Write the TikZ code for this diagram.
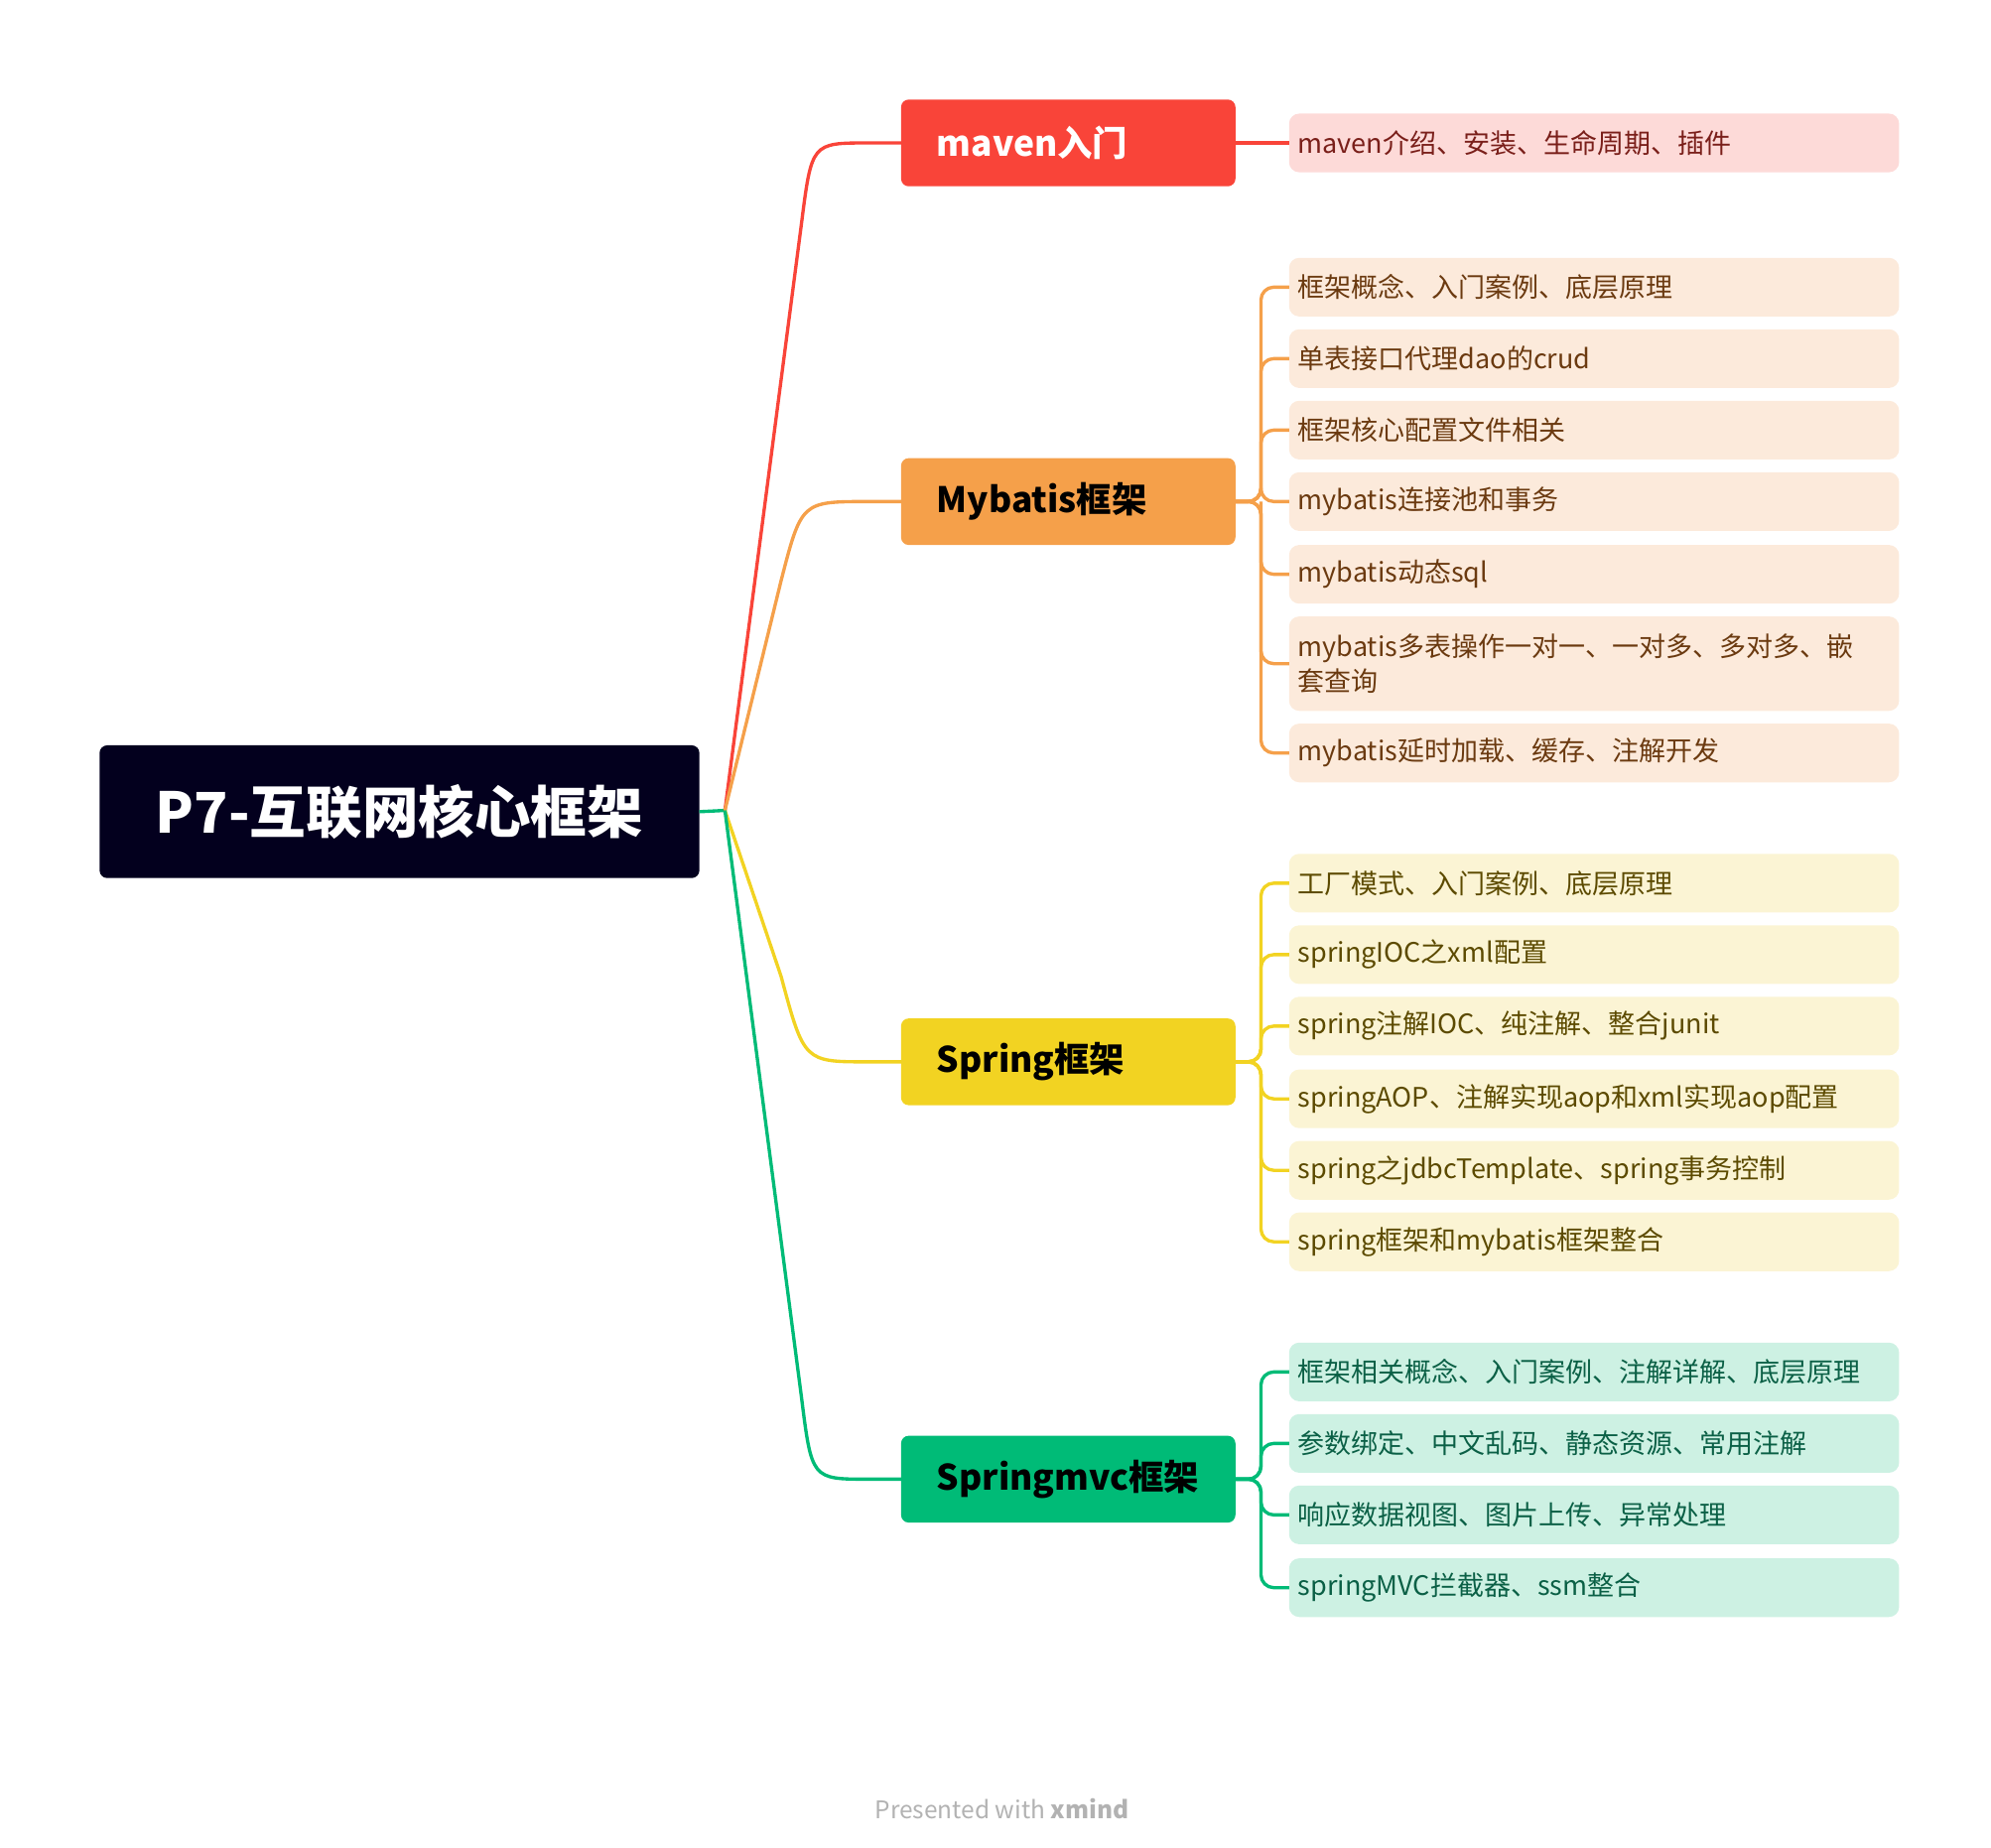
\documentclass[tikz,border=0pt]{standalone}
\usepackage{fontspec}
\setmainfont{Noto Sans CJK SC}
\begin{document}
\begin{tikzpicture}[x=1pt,y=-1pt,outer sep=0pt,
  rootbox/.style={fill=rootc,rounded corners=6pt,minimum width=470pt,minimum height=104pt,text=white,font=\fontsize{44}{50}\selectfont\bfseries},
  brbox/.style={rounded corners=6pt,minimum width=262pt,minimum height=68pt,font=\fontsize{27.5}{32}\selectfont\bfseries,text width=206pt,align=left},
  leaf/.style={rounded corners=8pt,minimum width=478pt,minimum height=46pt,text width=464pt,align=left,font=\fontsize{21}{27}\selectfont,inner sep=3pt},
  conn/.style={line width=2.6pt,rounded corners=10pt},
  root2/.style={line width=2.6pt}]
\definecolor{rootc}{HTML}{03001E}
\definecolor{cr}{HTML}{F94439}\definecolor{lr}{HTML}{FDDAD8}\definecolor{tr}{HTML}{7A1F1A}
\definecolor{co}{HTML}{F5A04A}\definecolor{lo}{HTML}{FCEADB}\definecolor{to}{HTML}{6B3A10}
\definecolor{cy}{HTML}{F2D322}\definecolor{ly}{HTML}{FBF4D4}\definecolor{ty}{HTML}{5C4A00}
\definecolor{cg}{HTML}{00BB77}\definecolor{lg}{HTML}{CDF1E3}\definecolor{tg}{HTML}{0B6046}
\useasboundingbox (0,0) rectangle (1560,1448);
\node[rootbox] (root) at (313,636) {P7-互联网核心框架};
\coordinate (rj) at (568,635);
\draw[root2,cg] (root.east) -- (rj);
% branches
\node[brbox,fill=cr,text=white] (b1) at (837,112) {maven入门};
\node[brbox,fill=co] (b2) at (837,393) {Mybatis框架};
\node[brbox,fill=cy] (b3) at (837,832) {Spring框架};
\node[brbox,fill=cg] (b4) at (837,1159) {Springmvc框架};
\draw[root2,cr] (rj) -- (628,175) .. controls (636,112) .. (680,112) -- (b1.west);
\draw[root2,co] (rj) -- (612,455) .. controls (628,393) .. (680,393) -- (b2.west);
\draw[root2,cy] (rj) -- (612,765) .. controls (630,832) .. (680,832) -- (b3.west);
\draw[root2,cg] (rj) -- (628,1095) .. controls (636,1159) .. (680,1159) -- (b4.west);
% leaves
\newcommand{\lf}[6]{\node[leaf,fill=#3,text=#4,anchor=west] (#1) at (1010,#2) {#6};
  \draw[conn,#5] (#1.west) -- (988,#2) -- (988,\csname by\endcsname) -- (968,\csname by\endcsname);}
\node[leaf,fill=lr,text=tr,anchor=west] (a1) at (1010,112) {maven介绍、安装、生命周期、插件};
\draw[root2,cr] (b1.east) -- (a1.west);
\def\by{393}
\lf{m1}{225}{lo}{to}{co}{框架概念、入门案例、底层原理}
\lf{m2}{281}{lo}{to}{co}{单表接口代理dao的crud}
\lf{m3}{337}{lo}{to}{co}{框架核心配置文件相关}
\lf{m4}{393}{lo}{to}{co}{mybatis连接池和事务}
\lf{m5}{450}{lo}{to}{co}{mybatis动态sql}
\node[leaf,fill=lo,text=to,anchor=west,minimum height=74pt] (m6) at (1010,520) {mybatis多表操作一对一、一对多、多对多、嵌\\套查询};
\draw[conn,co] (m6.west) -- (988,520) -- (988,393);
\lf{m7}{590}{lo}{to}{co}{mybatis延时加载、缓存、注解开发}
\def\by{832}
\lf{s1}{692}{ly}{ty}{cy}{工厂模式、入门案例、底层原理}
\lf{s2}{748}{ly}{ty}{cy}{springIOC之xml配置}
\lf{s3}{804}{ly}{ty}{cy}{spring注解IOC、纯注解、整合junit}
\lf{s4}{861}{ly}{ty}{cy}{springAOP、注解实现aop和xml实现aop配置}
\lf{s5}{917}{ly}{ty}{cy}{spring之jdbcTemplate、spring事务控制}
\lf{s6}{973}{ly}{ty}{cy}{spring框架和mybatis框架整合}
\def\by{1159}
\lf{g1}{1075}{lg}{tg}{cg}{框架相关概念、入门案例、注解详解、底层原理}
\lf{g2}{1131}{lg}{tg}{cg}{参数绑定、中文乱码、静态资源、常用注解}
\lf{g3}{1187}{lg}{tg}{cg}{响应数据视图、图片上传、异常处理}
\lf{g4}{1244}{lg}{tg}{cg}{springMVC拦截器、ssm整合}
\node[text=black!30,font=\fontsize{19}{22}\selectfont] (ft) at (785,1417) {Presented with \textbf{xmind}};
\end{tikzpicture}
\end{document}
